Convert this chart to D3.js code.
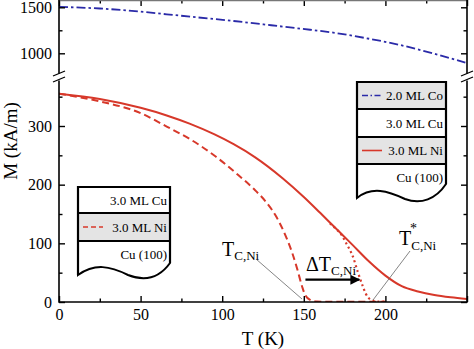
<!DOCTYPE html>
<html><head><meta charset="utf-8">
<script src="https://cdn.jsdelivr.net/npm/d3@7"></script>
<style>
body{margin:0;background:#fff;}
svg, svg text{font-family:'Liberation Serif','DejaVu Serif','Times New Roman',Times,serif;}
</style></head>
<body><svg id="c" width="474" height="349"></svg>
<script>
// ---- data ----
const T_CO = [0, 25, 50, 66, 85, 107, 130, 148, 168, 188, 209, 229, 249];
const M_CO = [1505, 1487, 1453, 1424, 1390, 1351, 1305, 1268, 1225, 1165, 1090, 1000, 899];

const T_NI_CO = [0, 25, 50, 66, 80, 95, 107, 120, 137, 150, 160, 168, 180, 190, 200, 210, 220, 230, 240, 250];
const M_NI_CO = [355, 346, 331, 318, 304, 286, 269, 247, 211, 179, 152, 130, 97, 69, 45, 27, 18, 12, 8, 5];

const T_NI = [0, 25, 50, 66, 80, 96, 110, 120, 127, 133, 139, 143, 146, 149, 151, 154, 158, 165, 200];
const M_NI = [355, 342, 322, 299, 278, 248, 216, 191, 170, 146, 112, 83, 56, 26, 11, 3.5, 0.8, 0.5, 0.5];

const T_DOT = [166, 170, 173, 176, 180, 183, 186, 188, 191, 195, 200];
const M_DOT = [134, 124, 115, 100, 78, 52, 28, 14, 4, 0.8, 0.5];

const X_TICKS = [0, 50, 100, 150, 200, 250];
const X_LABELS = ["0", "50", "100", "150", "200", ""];
const X_MINOR = [25, 75, 125, 175, 225];
const Y_TICKS_LOW = [0, 100, 200, 300];
const Y_MINOR_LOW = [50, 150, 250, 350];
const Y_TICKS_UP = [1000, 1500];
const Y_MINOR_UP = [1250];

const ARROW_T = [151, 184];
const ARROW_M = 38;

// ---- layout ----
const svg = d3.select("#c").attr("font-family","'Liberation Serif','DejaVu Serif',serif");
const L = 59, R = 467, B = 302, TOP = 0, BRK = 77;
const x = d3.scaleLinear().domain([0, 250]).range([L, R]);
const yLow = d3.scaleLinear().domain([0, 300]).range([B, 126]);
const yUp = d3.scaleLinear().domain([1000, 1500]).range([53.3, 7.3]);

const RED = "#d7382a", BLUE = "#2a2aa8";

const defs = svg.append("defs");
defs.append("clipPath").attr("id","clipUp")
  .append("rect").attr("x",L).attr("y",TOP).attr("width",R-L).attr("height",BRK-4-TOP);
defs.append("clipPath").attr("id","clipLow")
  .append("rect").attr("x",L).attr("y",BRK+3).attr("width",R-L).attr("height",B-BRK-3);
defs.append("marker").attr("id","arr").attr("viewBox","0 0 10 10")
  .attr("refX",9).attr("refY",5).attr("markerWidth",5.5).attr("markerHeight",4.5)
  .attr("markerUnits","strokeWidth").attr("orient","auto")
  .append("path").attr("d","M0,0 L10,5 L0,10 Z").attr("fill","#000");

function drawLine(T, M, ys, clip, color, dash, w){
  const pts = T.map((t,i)=>[t, M[i]]);
  svg.append("path").datum(pts)
    .attr("clip-path", `url(#${clip})`)
    .attr("d", d3.line().x(d=>x(d[0])).y(d=>ys(d[1])).curve(d3.curveMonotoneX))
    .attr("fill","none").attr("stroke",color).attr("stroke-width",w)
    .attr("stroke-dasharray", dash);
}
drawLine(T_CO, M_CO, yUp, "clipUp", BLUE, "9,3,2.5,3", 1.8);
drawLine(T_NI, M_NI, yLow, "clipLow", RED, "7,4", 2);
drawLine(T_DOT, M_DOT, yLow, "clipLow", RED, "2,3", 2.2);
drawLine(T_NI_CO, M_NI_CO, yLow, "clipLow", RED, null, 2);

// ---- axes ----
const axG = svg.append("g");
function styleAx(g){
  g.select(".domain").remove();
  g.attr("font-family", null);
  g.selectAll("line").attr("stroke","#000").attr("stroke-width",1.4);
  g.selectAll("text").attr("font-size",16).attr("fill","#000");
}
const fmt = d3.format("d");
axG.append("g").attr("transform",`translate(0,${B})`)
  .call(d3.axisBottom(x).tickValues(X_TICKS).tickSizeInner(-6).tickSizeOuter(0).tickPadding(7)
    .tickFormat((d,i)=>X_LABELS[i])).call(styleAx);
axG.append("g").attr("transform",`translate(0,${B})`)
  .call(d3.axisBottom(x).tickValues(X_MINOR).tickSizeInner(-3.5).tickSizeOuter(0).tickFormat("")).call(styleAx);
axG.append("g").attr("transform",`translate(0,${TOP})`)
  .call(d3.axisTop(x).tickValues(X_TICKS).tickSizeInner(-6).tickSizeOuter(0).tickFormat("")).call(styleAx);
axG.append("g").attr("transform",`translate(0,${TOP})`)
  .call(d3.axisTop(x).tickValues(X_MINOR).tickSizeInner(-3.5).tickSizeOuter(0).tickFormat("")).call(styleAx);
axG.append("g").attr("transform",`translate(${L},0)`)
  .call(d3.axisLeft(yLow).tickValues(Y_TICKS_LOW).tickSizeInner(-6).tickSizeOuter(0).tickPadding(7).tickFormat(fmt)).call(styleAx);
axG.append("g").attr("transform",`translate(${L},0)`)
  .call(d3.axisLeft(yLow).tickValues(Y_MINOR_LOW).tickSizeInner(-3.5).tickSizeOuter(0).tickFormat("")).call(styleAx);
axG.append("g").attr("transform",`translate(${L},0)`)
  .call(d3.axisLeft(yUp).tickValues(Y_TICKS_UP).tickSizeInner(-6).tickSizeOuter(0).tickPadding(7).tickFormat(fmt)).call(styleAx);
axG.append("g").attr("transform",`translate(${L},0)`)
  .call(d3.axisLeft(yUp).tickValues(Y_MINOR_UP).tickSizeInner(-3.5).tickSizeOuter(0).tickFormat("")).call(styleAx);
axG.append("g").attr("transform",`translate(${R},0)`)
  .call(d3.axisRight(yLow).tickValues(Y_TICKS_LOW).tickSizeInner(-6).tickSizeOuter(0).tickFormat("")).call(styleAx);
axG.append("g").attr("transform",`translate(${R},0)`)
  .call(d3.axisRight(yLow).tickValues(Y_MINOR_LOW).tickSizeInner(-3.5).tickSizeOuter(0).tickFormat("")).call(styleAx);
axG.append("g").attr("transform",`translate(${R},0)`)
  .call(d3.axisRight(yUp).tickValues(Y_TICKS_UP).tickSizeInner(-6).tickSizeOuter(0).tickFormat("")).call(styleAx);
axG.append("g").attr("transform",`translate(${R},0)`)
  .call(d3.axisRight(yUp).tickValues(Y_MINOR_UP).tickSizeInner(-3.5).tickSizeOuter(0).tickFormat("")).call(styleAx);

// frame lines with break
const fr = svg.append("g").attr("stroke","#000").attr("stroke-width",1.6).attr("fill","none");
fr.append("line").attr("x1",L).attr("x2",R).attr("y1",B).attr("y2",B);
fr.append("line").attr("x1",L).attr("x2",R).attr("y1",TOP+0.5).attr("y2",TOP+0.5).attr("stroke","#777");
[L, R].forEach(xx=>{
  fr.append("line").attr("x1",xx).attr("x2",xx).attr("y1",TOP).attr("y2",BRK-3.5);
  fr.append("line").attr("x1",xx).attr("x2",xx).attr("y1",BRK+3.5).attr("y2",B+0.8);
  fr.append("rect").attr("x",xx-7).attr("y",BRK-1.5).attr("width",14).attr("height",3.5).attr("fill","#fff").attr("stroke","none");
  fr.append("line").attr("x1",xx-6).attr("x2",xx+6).attr("y1",BRK-1).attr("y2",BRK-6).attr("stroke-width",1.3);
  fr.append("line").attr("x1",xx-6).attr("x2",xx+6).attr("y1",BRK+5).attr("y2",BRK).attr("stroke-width",1.3);
});

// axis labels
svg.append("text").attr("x",(L+R)/2).attr("y",345).attr("text-anchor","middle")
  .attr("font-size",19).text("T (K)");
svg.append("text").attr("transform","translate(17,141) rotate(-90)").attr("text-anchor","middle")
  .attr("font-size",19).text("M (kA/m)");

// annotations
const ann = svg.append("g").attr("fill","#000");
const t1 = ann.append("text").attr("x",222).attr("y",256).attr("font-size",20);
t1.append("tspan").text("T");
t1.append("tspan").attr("font-size",13).attr("dy",4).text("C,Ni");
svg.append("line").attr("x1",256).attr("y1",259).attr("x2",302).attr("y2",299)
  .attr("stroke","#666").attr("stroke-width",0.8);

const t2 = ann.append("text").attr("x",306).attr("y",271).attr("font-size",20);
t2.append("tspan").text("ΔT");
t2.append("tspan").attr("font-size",13).attr("dy",4).text("C,Ni");
svg.append("line").attr("x1",x(ARROW_T[0])).attr("x2",x(ARROW_T[1]))
  .attr("y1",yLow(ARROW_M)).attr("y2",yLow(ARROW_M))
  .attr("stroke","#000").attr("stroke-width",2.2).attr("marker-end","url(#arr)");

const t3 = ann.append("text").attr("x",399).attr("y",245).attr("font-size",20);
t3.append("tspan").text("T");
t3.append("tspan").attr("font-size",13).attr("dy",5).text("C,Ni");
ann.append("text").attr("x",410).attr("y",233).attr("font-size",14).text("*");
svg.append("line").attr("x1",410).attr("y1",251).attr("x2",373).attr("y2",300)
  .attr("stroke","#666").attr("stroke-width",0.8);

// ---- legends ----
function legend(x0, x1, rows, waveL, waveR, waveD){
  const g = svg.append("g");
  rows.forEach(r=>{
    if(r.fill) g.append("rect").attr("x",x0).attr("y",r.y0).attr("width",x1-x0).attr("height",r.y1-r.y0).attr("fill","#e4e4e4");
  });
  g.append("path").attr("d",waveD).attr("fill","#fff").attr("stroke","#000").attr("stroke-width",2);
  rows.forEach(r=>{
    g.append("line").attr("x1",x0).attr("x2",x1).attr("y1",r.y0).attr("y2",r.y0).attr("stroke","#000").attr("stroke-width",2);
    if(r.sample){
      g.append("line").attr("x1",x0+5).attr("x2",x0+25).attr("y1",(r.y0+r.y1)/2).attr("y2",(r.y0+r.y1)/2)
        .attr("stroke",r.sample.c).attr("stroke-width",1.6).attr("stroke-dasharray",r.sample.d);
    }
    g.append("text").attr("x",x1-3).attr("y",(r.y0+r.y1)/2+4.5).attr("text-anchor","end")
      .attr("font-size",13).text(r.label);
  });
  g.append("line").attr("x1",x0).attr("x2",x0).attr("y1",rows[0].y0-1).attr("y2",waveL).attr("stroke","#000").attr("stroke-width",2.2);
  g.append("line").attr("x1",x1).attr("x2",x1).attr("y1",rows[0].y0-1).attr("y2",waveR).attr("stroke","#000").attr("stroke-width",2.2);
}
legend(357, 446, [
  {y0:82, y1:109, fill:true, label:"2.0 ML Co", sample:{c:BLUE, d:"6,2.5,1.5,2.5"}},
  {y0:109, y1:137, fill:false, label:"3.0 ML Cu"},
  {y0:137, y1:164, fill:true, label:"3.0 ML Ni", sample:{c:RED, d:null}},
  {y0:164, y1:190, fill:false, label:"Cu (100)"}
], 198, 184, "M357,164 L446,164 L446,184 C436,199 421,205 405,199 C388,191 372,186 357,198 Z");
legend(78, 170, [
  {y0:187, y1:213, fill:false, label:"3.0 ML Cu"},
  {y0:213, y1:241, fill:true, label:"3.0 ML Ni", sample:{c:RED, d:"5,3"}},
  {y0:241, y1:268, fill:false, label:"Cu (100)"}
], 275, 263, "M78,241 L170,241 L170,263 C160,277 146,282 128,275 C110,266 95,263 78,275 Z");
</script></body></html>
